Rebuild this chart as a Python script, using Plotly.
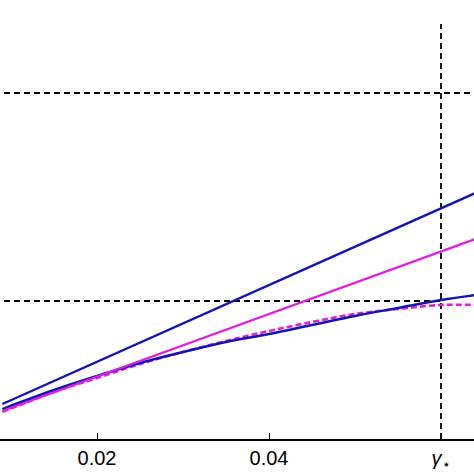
import plotly.graph_objects as go

# x grid (gamma) for curves
gamma = [0.009, 0.015, 0.02, 0.025, 0.03, 0.035, 0.04, 0.045, 0.05, 0.055, 0.06, 0.064]
blue_curve = [0.30, 0.49, 0.63, 0.76, 0.87, 0.97, 1.05, 1.14, 1.23, 1.31, 1.39, 1.44]
magenta_dashed = [0.27, 0.47, 0.61, 0.75, 0.87, 0.98, 1.08, 1.17, 1.25, 1.30, 1.34, 1.34]

# straight lines (endpoints)
gamma_lin = [0.009, 0.064]
blue_line = [0.35, 2.46]
magenta_line = [0.28, 2.00]

gamma_star = 0.06
level_top = 3.46
level_mid = 1.38
vline_top = 4.15

tick_vals = [0.02, 0.04, 0.06]
tick_text = ["0.02", "0.04", "<i>γ</i><sub>⋆</sub>"]

x_range = [0.008721, 0.063837]
y_range = [0, 4.39]

BLUE = "#1414b4"
MAG = "#e01ee0"

fig = go.Figure()
fig.add_trace(go.Scatter(x=[x_range[0] - 0.01, x_range[1] + 0.01], y=[level_top, level_top], mode="lines",
                         line=dict(color="black", width=1.8, dash="6px,4px")))
fig.add_trace(go.Scatter(x=[x_range[0] - 0.01, gamma_star], y=[level_mid, level_mid], mode="lines",
                         line=dict(color="black", width=1.8, dash="6px,4px")))
fig.add_trace(go.Scatter(x=[gamma_star, gamma_star], y=[0, vline_top], mode="lines",
                         line=dict(color="black", width=1.8, dash="6px,4px")))
fig.add_trace(go.Scatter(x=gamma, y=magenta_dashed, mode="lines", line_shape="spline",
                         line=dict(color=MAG, width=2.6, dash="6px,3px")))
fig.add_trace(go.Scatter(x=gamma, y=blue_curve, mode="lines", line_shape="spline",
                         line=dict(color=BLUE, width=2.4)))
fig.add_trace(go.Scatter(x=gamma_lin, y=magenta_line, mode="lines",
                         line=dict(color=MAG, width=2.2)))
fig.add_trace(go.Scatter(x=gamma_lin, y=blue_line, mode="lines",
                         line=dict(color=BLUE, width=2.4)))

fig.update_layout(
    width=474, height=474,
    margin=dict(l=0, r=0, t=0, b=35, pad=0, autoexpand=False),
    paper_bgcolor="white", plot_bgcolor="white",
    showlegend=False,
    font=dict(family="Liberation Sans, Arial, sans-serif", size=20, color="black"),
)
fig.update_xaxes(range=x_range, showgrid=False, zeroline=False, showline=True,
                 linecolor="black", linewidth=1.5, ticks="inside", ticklen=6,
                 tickcolor="black", tickwidth=1, tickvals=tick_vals, ticktext=tick_text,
                 tickfont=dict(size=20), automargin=False)
fig.update_yaxes(range=y_range, visible=False, automargin=False)

fig.write_html("out.html", config={"displayModeBar": False},
               post_script="document.body.style.margin='0';document.body.style.overflow='hidden';")
